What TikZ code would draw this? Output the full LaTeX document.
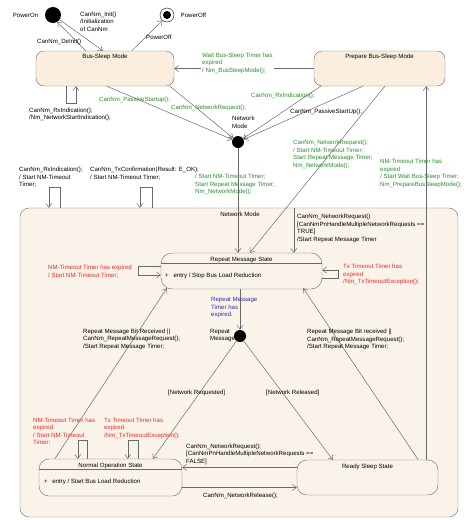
\documentclass[tikz,border=0pt]{standalone}
\usepackage{fontspec}
\setmainfont{Liberation Sans}
\usetikzlibrary{arrows.meta,positioning,calc}
\definecolor{stfill}{RGB}{251,238,222}
\definecolor{nmfill}{RGB}{250,243,233}
\definecolor{edge}{RGB}{105,105,105}
\definecolor{grn}{RGB}{40,140,40}
\definecolor{rd}{RGB}{240,40,40}
\definecolor{prp}{RGB}{55,40,165}

\begin{document}
\begin{tikzpicture}[x=1pt, y=-1pt,
  font=\fontsize{6.1}{7.5}\selectfont,
  state/.style={rectangle, draw=edge, fill=stfill, rounded corners=8pt, inner sep=0pt},
  junc/.style={circle, fill=black, minimum size=12pt, inner sep=0pt},
  txt/.style={align=left, inner sep=0pt, anchor=north west},
  title/.style={inner sep=0pt},
  line/.style={draw=edge, line width=0.5pt, -{Straight Barb[length=4pt,width=6pt]}}]

  \useasboundingbox (0,0) rectangle (474,520);

  \node [state, rounded corners=9pt, fill=nmfill, minimum width=438pt, minimum height=309pt] (netmode) at (239,362.5) {};
  \node [state, minimum width=138pt, minimum height=35pt] (bussleep) at (105,68.5) {};
  \node [state, minimum width=131pt, minimum height=35pt] (prepare) at (379.5,68.5) {};
  \node [state, rounded corners=11pt, fill=nmfill, minimum width=161pt, minimum height=36pt] (repeat) at (241.5,271) {};
  \node [state, rounded corners=10pt, fill=nmfill, minimum width=143pt, minimum height=37pt] (normal) at (110.5,477.5) {};
  \node [state, rounded corners=10pt, fill=nmfill, minimum width=141pt, minimum height=35pt] (ready) at (367.5,477.5) {};

  \node [title, below=3pt of bussleep.north] {Bus-Sleep Mode};
  \node [title, below=3pt of prepare.north] {Prepare Bus-Sleep Mode};
  \node [title, below=4.5pt of repeat.north] {Repeat Message State};
  \node [title, below=4.5pt of normal.north] {Normal Operation State};
  \node [title, below=4.5pt of ready.north] {Ready Sleep State};
  \draw [edge, line width=0.5pt] ($(repeat.north west)+(0,10.5)$) -- ($(repeat.north east)+(0,10.5)$);
  \draw [edge, line width=0.5pt] ($(normal.north west)+(0,10)$) -- ($(normal.north east)+(0,10)$);
  \node [title, anchor=west] at ($(repeat.west)+(4,5)$) {+\hspace{5pt}entry / Stop Bus Load Reduction};
  \node [title, anchor=west] at ($(normal.west)+(5,4.5)$) {+\hspace{4.7pt}entry / Start Bus Load Reduction};

  \node [junc, minimum size=16pt] (poweron) at (53,15) {};
  \node [circle, draw=black, fill=white, minimum size=14pt, inner sep=0pt,
    path picture={\fill [black] (path picture bounding box.center) circle (4pt);}] (poweroff) at (167,15) {};
  \node [junc] (njunc) at (238,142) {};
  \node [junc] (mjunc) at (240,336) {};
  \node [left=3pt of poweron] {PowerOn};
  \node [right=3pt of poweroff] {PowerOff};

  \coordinate (rtop) at ($(ready.north east)+(-12,0)$);
  \coordinate (mtop) at ($(netmode.north west)+(274,0)$);

  \draw [line] (poweron.-35) -- ($(bussleep.north west)+(67,0)$);
  \draw [line] ($(bussleep.north west)+(50,0)$) -- (poweron.-58);
  \draw [line] ($(bussleep.north west)+(96,0)$) -- (poweroff.-130);
  \draw [line] ($(bussleep.south west)+(30,0)$) -- ++(0,17) -| ($(bussleep.south west)+(40,0)$);
  \draw [line] (prepare.west) -- (bussleep.east);
  \draw [line] ($(bussleep.south west)+(71,0)$) -- (njunc);
  \draw [line] ($(bussleep.south west)+(134,0)$) -- (njunc);
  \draw [line] ($(prepare.south west)+(7,0)$) -- (njunc);
  \draw [line] ($(prepare.south west)+(49,0)$) -- (njunc);
  \draw [line] (njunc) -- (njunc |- repeat.north);
  \draw [line] ($(prepare.south west)+(71,0)$) -- ($(repeat.north west)+(89,0)$);
  \draw [line] (rtop) -- (rtop |- prepare.south);
  \draw [line] ($(netmode.north west)+(40,0)$) -- ++(0,-21) -| ($(netmode.north west)+(29,0)$);
  \draw [line] ($(netmode.north west)+(132,0)$) -- ++(0,-21) -| ($(netmode.north west)+(120,0)$);
  \draw [line] (mtop) -- (mtop |- repeat.north);
  \draw [line] ($(repeat.west)+(0,-5)$) -- ++(-23,0) |- ($(repeat.west)+(0,4)$);
  \draw [line] ($(repeat.east)+(0,7)$) -- ++(16,0) |- ($(repeat.east)+(0,-1)$);
  \draw [line] (mjunc |- repeat.south) -- (mjunc);
  \draw [line] (mjunc) -- ($(normal.north west)+(114,0)$);
  \draw [line] (mjunc) -- ($(ready.north west)+(36,0)$);
  \draw [line] ($(normal.north west)+(16,0)$) -- ($(repeat.south west)+(6,-1)$);
  \draw [line] ($(ready.north east)+(-20,0)$) -- ($(repeat.south east)+(-19,-1)$);
  \draw [line] ($(ready.west)+(0,-10)$) -- ($(normal.east)+(0,-10)$);
  \draw [line] ($(normal.east)+(0,10)$) -- ($(ready.west)+(0,10)$);
  \draw [line] ($(normal.north west)+(48,0)$) -- ++(0,-19) -| ($(normal.north west)+(39,0)$);
  \draw [line] ($(normal.north west)+(99,0)$) -- ++(0,-19) -| ($(normal.north west)+(89,0)$);

  \node [txt] at (80,11.5) {CanNm\_Init()\\/Initialization\\of CanNm};
  \node [txt] at (37,38.5) {CanNm\_DeInit()};
  \node [txt] at (146,34.5) {PowerOff};
  \node [txt] at (29,107.5) {CanNm\_RxIndication();\\/Nm\_NetworkStartIndication();};
  \node [txt, grn, fill=white, inner xsep=1pt] at (201,52.5) {Wait Bus-Sleep Timer has\\expired\\/ Nm\_BusSleepMode();};
  \node [txt, grn] at (99,97) {CanNm\_PassiveStartup();};
  \node [txt, grn] at (171,104.5) {CanNm\_NetworkRequest();};
  \node [txt, grn] at (251,93) {CanNm\_RxIndication();};
  \node [txt] at (290,109) {CanNm\_PassiveStartUp();};
  \node [txt] at (232,116) {Network\\Mode};
  \node [txt, grn] at (195,174) {/ Start NM-Timeout Timer;\\Start Repeat Message Timer;\\Nm\_NetworkMode();};
  \node [txt, grn] at (293,140) {CanNm\_NetworkRequest();\\/ Start NM-Timeout Timer;\\Start Repeat Message Timer;\\Nm\_NetworkMode();};
  \node [txt, grn] at (380,159) {NM-Timeout Timer has\\expired\\/ Start Wait Bus-Sleep Timer;\\Nm\_PrepareBusSleepMode();};
  \node [txt] at (19,167) {CanNm\_RxIndication();\\/ Start NM-Timeout\\Timer;};
  \node [txt] at (90,167) {CanNm\_TxConfirmation(Result: E\_OK);\\/ Start NM-Timeout Timer;};
  \node [title, anchor=north] at (240,212) {Network Mode};
  \node [txt] at (297,214) {CanNm\_NetworkRequest()\\{[}CanNmPnHandleMultipleNetworkRequests ==\\TRUE{]}\\/Start Repeat Message Timer};
  \node [txt, rd] at (48,265) {NM-Timeout Timer has expired\\/ Start NM-Timeout Timer;};
  \node [txt, rd] at (343,264) {Tx Timeout Timer has\\expired\\/Nm\_TxTimeoutException();};
  \node [txt, prp] at (211,297.5) {Repeat Message\\Timer has\\expired.};
  \node [txt] at (210,329) {Repeat\\Message};
  \node [txt] at (83,328.5) {Repeat Message Bit Received ||\\CanNm\_RepeatMessageRequest();\\/Start Repeat Message Timer;};
  \node [txt] at (307,329) {Repeat Message Bit received ||\\CanNm\_RepeatMessageRequest();\\/Start Repeat Message Timer;};
  \node [txt] at (168,390) {{[}Network Requested{]}};
  \node [txt] at (266,390) {{[}Network Released{]}};
  \node [txt, rd] at (33,417.5) {NM-Timeout Timer has\\expired\\/ Start NM-Timeout\\Timer;};
  \node [txt, rd] at (104,417.5) {Tx Timeout Timer has\\expired\\/Nm\_TxTimeoutException();};
  \node [txt] at (186,443.5) {CanNm\_NetworkRequest();\\{[}CanNmPnHandleMultipleNetworkRequests ==\\FALSE{]}};
  \node [txt] at (203,492.5) {CanNm\_NetworkRelease();};
\end{tikzpicture}
\end{document}
